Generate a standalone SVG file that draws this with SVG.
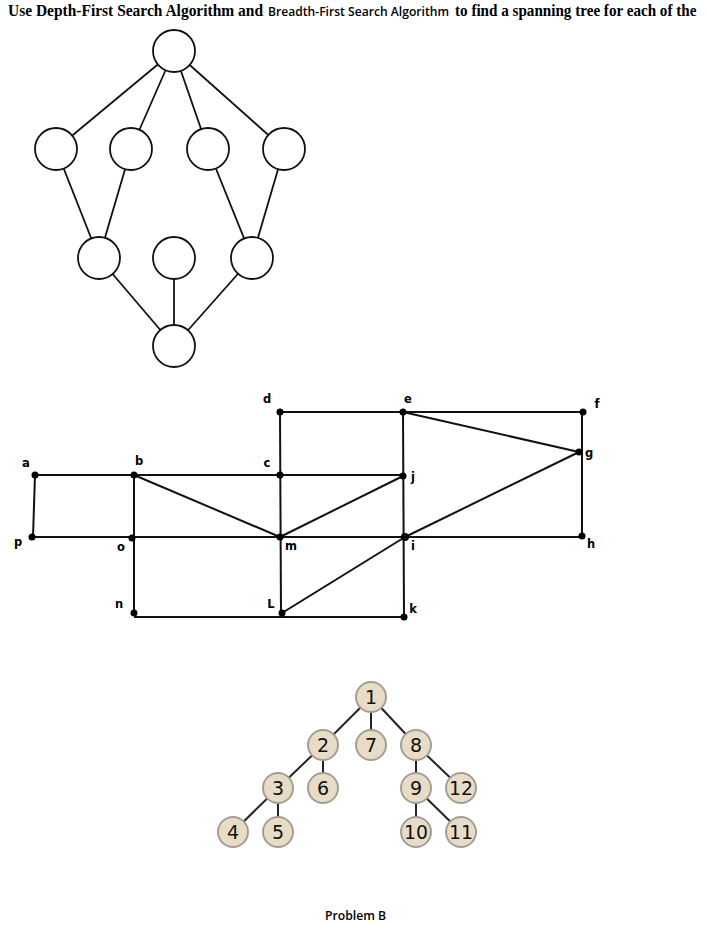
<svg xmlns="http://www.w3.org/2000/svg" width="708" height="926" viewBox="0 0 708 926">
<style>
.title{font-family:"Liberation Serif",serif;font-weight:bold;font-size:16px;fill:#000}
.sub{font-family:"Open Sans","Liberation Sans",sans-serif;font-weight:600;font-size:12px;fill:#000}
.e1{stroke:#111;stroke-width:1.8;fill:none}
.c1{fill:#fff;stroke:#111;stroke-width:1.8}
.e2{stroke:#111;stroke-width:2;fill:none}
.dot{fill:#000}
.lbl{font-family:"DejaVu Sans",sans-serif;font-weight:bold;font-size:11.5px;fill:#000;text-anchor:middle}
.e3{stroke:#222;stroke-width:2}
.tn{fill:#e9dcc6;stroke:#a39e96;stroke-width:2}
.tl{font-family:"DejaVu Sans",sans-serif;font-size:19px;fill:#111;text-anchor:middle}
</style>
<rect width="708" height="926" fill="#fff"/>
<g id="title">
<text class="title" transform="translate(8,16) scale(0.85,1)" x="0" y="0" textLength="300" lengthAdjust="spacingAndGlyphs">Use Depth-First Search Algorithm and</text>
<text class="sub" x="268" y="16" textLength="181" lengthAdjust="spacingAndGlyphs">Breadth-First Search Algorithm</text>
<text class="title" transform="translate(455,16) scale(0.85,1)" x="0" y="0" textLength="284" lengthAdjust="spacingAndGlyphs">to find a spanning tree for each of the</text>
</g>
<g id="graphA-edges">
<line class="e1" x1="174" y1="51" x2="56" y2="149"/>
<line class="e1" x1="174" y1="51" x2="131" y2="149"/>
<line class="e1" x1="174" y1="51" x2="208" y2="149"/>
<line class="e1" x1="174" y1="51" x2="284" y2="149"/>
<line class="e1" x1="56" y1="149" x2="99" y2="258"/>
<line class="e1" x1="131" y1="149" x2="99" y2="258"/>
<line class="e1" x1="208" y1="149" x2="252" y2="258"/>
<line class="e1" x1="284" y1="149" x2="252" y2="258"/>
<line class="e1" x1="99" y1="258" x2="174" y2="346"/>
<line class="e1" x1="174" y1="258" x2="174" y2="346"/>
<line class="e1" x1="252" y1="258" x2="174" y2="346"/>
</g>
<g id="graphA-nodes">
<circle id="a0" class="c1" cx="174" cy="51" r="21"/>
<circle id="a1" class="c1" cx="56" cy="149" r="21"/>
<circle id="a2" class="c1" cx="131" cy="149" r="21"/>
<circle id="a3" class="c1" cx="208" cy="149" r="21"/>
<circle id="a4" class="c1" cx="284" cy="149" r="21"/>
<circle id="a5" class="c1" cx="99" cy="258" r="21"/>
<circle id="a6" class="c1" cx="174" cy="258" r="21"/>
<circle id="a7" class="c1" cx="252" cy="258" r="21"/>
<circle id="a8" class="c1" cx="174" cy="346" r="21"/>
</g>
<g id="graphB-edges">
<line class="e2" x1="280" y1="412" x2="583" y2="412"/>
<line class="e2" x1="35" y1="475" x2="403" y2="475"/>
<line class="e2" x1="32" y1="537" x2="582" y2="537"/>
<line class="e2" x1="134" y1="617" x2="404" y2="617"/>
<line class="e2" x1="35" y1="475" x2="33" y2="537"/>
<line class="e2" x1="134" y1="475" x2="134" y2="615"/>
<line class="e2" x1="280" y1="412" x2="281" y2="615"/>
<line class="e2" x1="403" y1="412" x2="404" y2="617"/>
<line class="e2" x1="582" y1="412" x2="582" y2="537"/>
<line class="e2" x1="134" y1="475" x2="280" y2="537"/>
<line class="e2" x1="280" y1="537" x2="403" y2="476"/>
<line class="e2" x1="403" y1="412" x2="579" y2="452"/>
<line class="e2" x1="405" y1="537" x2="579" y2="452"/>
<line class="e2" x1="282" y1="613" x2="405" y2="537"/>
</g>
<g id="graphB-nodes">
<g id="n-d"><circle class="dot" cx="280" cy="412" r="3.5"/><text class="lbl" x="267" y="403">d</text></g>
<g id="n-e"><circle class="dot" cx="403" cy="412" r="3.5"/><text class="lbl" x="408" y="403">e</text></g>
<g id="n-f"><circle class="dot" cx="583" cy="412" r="3.5"/><text class="lbl" x="597" y="408">f</text></g>
<g id="n-g"><circle class="dot" cx="579" cy="452" r="3.5"/><text class="lbl" x="589" y="457">g</text></g>
<g id="n-a"><circle class="dot" cx="35" cy="475" r="3.5"/><text class="lbl" x="26" y="467">a</text></g>
<g id="n-b"><circle class="dot" cx="134" cy="475" r="3.5"/><text class="lbl" x="139" y="465">b</text></g>
<g id="n-c"><circle class="dot" cx="280" cy="475" r="3.5"/><text class="lbl" x="267" y="467">c</text></g>
<g id="n-j"><circle class="dot" cx="403" cy="476" r="3.5"/><text class="lbl" x="413" y="481">j</text></g>
<g id="n-p"><circle class="dot" cx="32" cy="537" r="3.5"/><text class="lbl" x="18" y="546">p</text></g>
<g id="n-o"><circle class="dot" cx="132" cy="538" r="3.5"/><text class="lbl" x="121" y="551">o</text></g>
<g id="n-m"><circle class="dot" cx="280" cy="537" r="3.5"/><text class="lbl" x="291" y="550">m</text></g>
<g id="n-i"><circle class="dot" cx="405" cy="537" r="4"/><text class="lbl" x="413" y="550">i</text></g>
<g id="n-h"><circle class="dot" cx="582" cy="536" r="3.5"/><text class="lbl" x="591" y="548">h</text></g>
<g id="n-n"><circle class="dot" cx="134" cy="613" r="3.5"/><text class="lbl" x="119" y="608">n</text></g>
<g id="n-L"><circle class="dot" cx="282" cy="613" r="3.5"/><text class="lbl" x="271" y="608">L</text></g>
<g id="n-k"><circle class="dot" cx="404" cy="617" r="3.5"/><text class="lbl" x="413" y="613">k</text></g>
</g>
<g id="tree-edges">
<line class="e3" x1="371" y1="697" x2="323" y2="745"/>
<line class="e3" x1="371" y1="697" x2="371" y2="745"/>
<line class="e3" x1="371" y1="697" x2="416" y2="745"/>
<line class="e3" x1="323" y1="745" x2="278" y2="788"/>
<line class="e3" x1="323" y1="745" x2="323" y2="788"/>
<line class="e3" x1="278" y1="788" x2="233" y2="832"/>
<line class="e3" x1="278" y1="788" x2="278" y2="832"/>
<line class="e3" x1="416" y1="745" x2="416" y2="788"/>
<line class="e3" x1="416" y1="745" x2="461" y2="788"/>
<line class="e3" x1="416" y1="788" x2="416" y2="832"/>
<line class="e3" x1="416" y1="788" x2="461" y2="832"/>
</g>
<g id="tree-nodes">
<g id="t1"><circle class="tn" cx="371" cy="697" r="15"/><text class="tl" x="371" y="704">1</text></g>
<g id="t2"><circle class="tn" cx="323" cy="745" r="15"/><text class="tl" x="323" y="752">2</text></g>
<g id="t7"><circle class="tn" cx="371" cy="745" r="15"/><text class="tl" x="371" y="752">7</text></g>
<g id="t8"><circle class="tn" cx="416" cy="745" r="15"/><text class="tl" x="416" y="752">8</text></g>
<g id="t3"><circle class="tn" cx="278" cy="788" r="15"/><text class="tl" x="278" y="795">3</text></g>
<g id="t6"><circle class="tn" cx="323" cy="788" r="15"/><text class="tl" x="323" y="795">6</text></g>
<g id="t9"><circle class="tn" cx="416" cy="788" r="15"/><text class="tl" x="416" y="795">9</text></g>
<g id="t12"><circle class="tn" cx="461" cy="788" r="15"/><text class="tl" x="461" y="795" textLength="24" lengthAdjust="spacingAndGlyphs">12</text></g>
<g id="t4"><circle class="tn" cx="233" cy="832" r="15"/><text class="tl" x="233" y="839">4</text></g>
<g id="t5"><circle class="tn" cx="278" cy="832" r="15"/><text class="tl" x="278" y="839">5</text></g>
<g id="t10"><circle class="tn" cx="416" cy="832" r="15"/><text class="tl" x="416" y="839" textLength="24" lengthAdjust="spacingAndGlyphs">10</text></g>
<g id="t11"><circle class="tn" cx="461" cy="832" r="15"/><text class="tl" x="461" y="839" textLength="24" lengthAdjust="spacingAndGlyphs">11</text></g>
</g>
<text class="sub" x="325" y="920" textLength="61" lengthAdjust="spacingAndGlyphs">Problem B</text>
</svg>
